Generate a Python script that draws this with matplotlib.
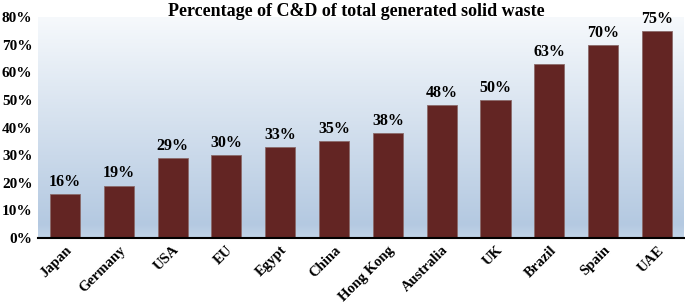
import numpy as np
import matplotlib
matplotlib.use("Agg")
import matplotlib.pyplot as plt
from matplotlib.colors import LinearSegmentedColormap

countries = ["Japan", "Germany", "USA", "EU", "Egypt", "China", "Hong Kong",
             "Australia", "UK", "Brazil", "Spain", "UAE"]
values = [16, 19, 29, 30, 33, 35, 38, 48, 50, 63, 70, 75]
yticks = [0, 10, 20, 30, 40, 50, 60, 70, 80]

plt.rcParams['font.family'] = ['Liberation Serif', 'DejaVu Serif']
plt.rcParams['font.weight'] = 'bold'

fig = plt.figure(figsize=(6.85, 3.05), dpi=100)
ax = fig.add_axes([0.0555, 0.2197, 0.943, 0.7243])

x = np.arange(len(countries))
ax.set_xlim(-0.5, len(countries) - 0.5)
ax.set_ylim(0, 80)

# gradient background
cmap = LinearSegmentedColormap.from_list("bg", [(0, "#c2d4e8"), (0.06, "#b4c9e1"), (1, "#f6f9fc")])
grad = np.linspace(0, 1, 256).reshape(-1, 1)
ax.imshow(grad, aspect='auto', cmap=cmap, origin='lower',
          extent=[-0.5, len(countries) - 0.5, 0, 80], zorder=0)

ax.bar(x, values, width=0.56, color="#632523", edgecolor="#8a6a6a", linewidth=0.6, zorder=2)

for xi, v in zip(x, values):
    ax.text(xi, v + 1.5, f"{v}%", ha='center', va='bottom', fontsize=11.5,
            fontweight='bold', zorder=3)

ax.set_yticks(yticks)
ax.set_yticklabels([f"{t}%" for t in yticks], fontsize=11, fontweight='bold')
ax.set_xticks(x)
ax.set_xticklabels(countries, rotation=45, ha='right', rotation_mode='anchor',
                   fontsize=10.5, fontweight='bold')
ax.tick_params(axis='both', length=0)
ax.tick_params(axis='y', pad=4)
ax.tick_params(axis='x', pad=4)

for s in ['top', 'right', 'left']:
    ax.spines[s].set_visible(False)
ax.spines['bottom'].set_color('black')
ax.spines['bottom'].set_linewidth(1.5)
ax.spines['bottom'].set_zorder(4)

fig.text(0.52, 0.962, "Percentage of C&D of total generated solid waste",
         ha='center', va='center', fontsize=13, fontweight='bold')

fig.savefig("out.png", dpi=100)
